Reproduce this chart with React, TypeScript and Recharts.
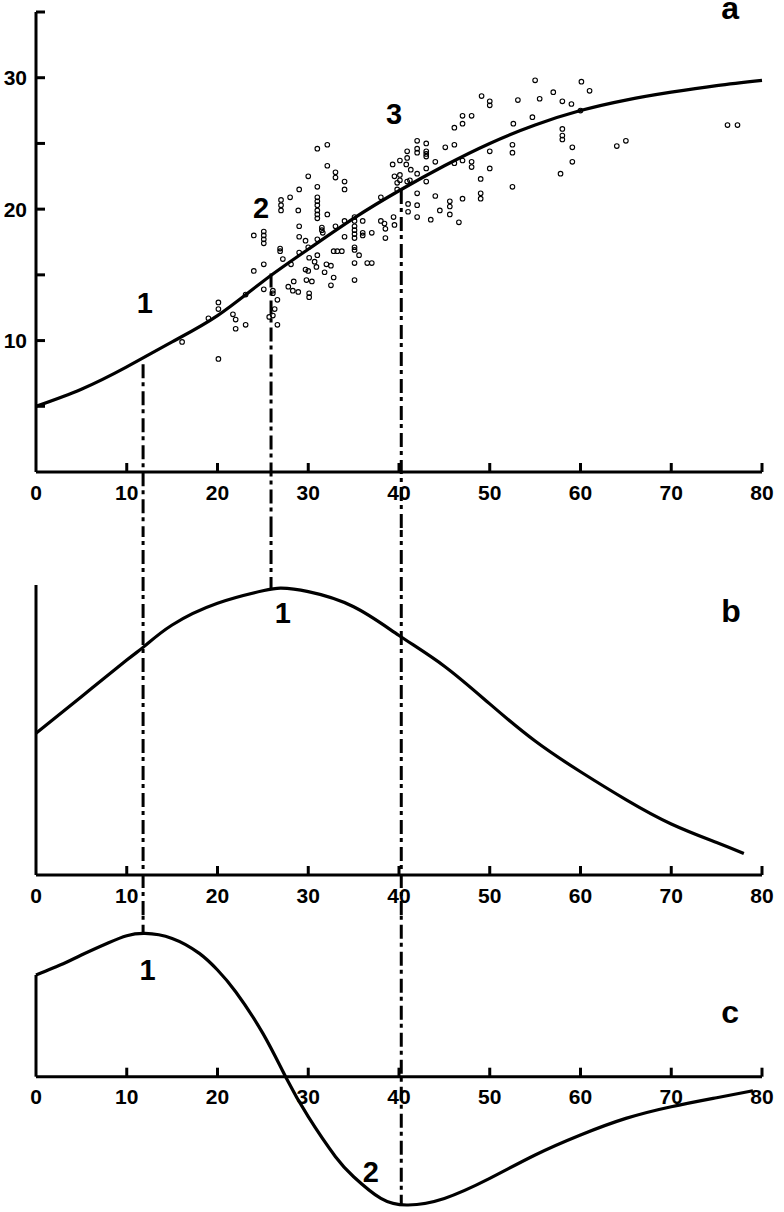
import React from 'react';
import { ComposedChart, Line, Scatter, XAxis, YAxis, ReferenceLine, ReferenceDot } from 'recharts';

// x ticks shared by the three panels
const xTicks = [0, 10, 20, 30, 40, 50, 60, 70, 80];
const yTicksA = [5, 10, 15, 20, 25, 30, 35];

// panel a: fitted curve
const ageA = [0, 5, 10, 15, 20, 25, 30, 35, 40, 45, 50, 55, 60, 65, 70, 75, 80];
const valueA = [5.0, 6.3, 8.0, 9.9, 11.9, 14.5, 16.95, 19.3, 21.4, 23.3, 25.0, 26.4, 27.5, 28.3, 28.9, 29.4, 29.8];

// panel a: observations
const observations: [number, number][] = [
  [16.1, 9.9], [19.0, 11.7], [20.1, 8.6], [20.1, 12.4], [20.1, 12.9],
  [21.7, 12.0], [22.0, 11.6], [22.0, 10.9], [23.1, 11.2], [23.1, 13.5],
  [24.0, 15.3], [24.0, 18.0], [25.1, 18.3], [25.1, 18.0], [25.1, 17.7], [25.1, 17.4],
  [25.1, 15.8], [25.1, 13.9], [26.1, 13.8], [26.1, 13.6], [26.6, 13.1], [26.3, 12.4],
  [25.7, 11.8], [26.1, 11.9], [26.6, 11.2],
  [27.0, 20.7], [27.0, 20.3], [27.0, 19.9], [26.9, 17.0], [26.9, 16.8], [27.2, 16.2],
  [28.0, 20.9], [28.9, 19.9], [29.0, 21.5], [29.0, 18.7], [29.0, 17.9], [29.7, 17.6], [30.0, 17.1],
  [29.0, 16.7], [28.1, 15.8], [27.8, 14.1], [28.3, 13.8], [28.9, 13.7], [28.4, 14.5],
  [29.8, 14.6], [30.4, 14.5], [30.1, 13.6], [30.1, 13.3], [29.7, 15.4], [30.0, 15.3],
  [30.1, 16.3], [30.7, 16.0], [30.9, 15.6], [31.0, 16.5],
  [30.0, 22.5], [31.0, 24.6], [31.0, 21.7],
  [31.0, 20.9], [31.0, 20.6], [31.0, 20.3], [31.0, 19.9], [31.0, 19.6], [31.0, 19.3], [31.0, 17.7],
  [32.1, 24.9], [32.1, 23.3], [33.0, 22.8], [33.0, 22.4], [34.0, 22.1], [34.0, 21.5],
  [32.1, 19.6], [34.0, 19.1], [33.0, 18.7], [31.5, 18.6], [31.5, 18.4], [31.6, 18.2],
  [35.1, 19.4], [35.1, 19.1], [35.1, 18.7], [35.1, 18.4], [35.1, 18.1], [35.1, 17.8],
  [36.0, 19.1], [36.0, 18.2], [36.0, 18.0], [34.0, 17.9], [37.0, 18.2],
  [38.0, 19.1], [38.4, 18.9], [38.5, 18.5], [38.0, 20.9], [38.5, 17.8], [39.4, 19.4], [39.5, 18.8],
  [41.0, 20.4], [41.0, 19.8], [42.0, 21.2], [42.0, 20.3], [42.0, 19.4], [43.5, 19.2],
  [44.0, 21.0], [44.5, 19.9], [45.6, 20.6], [45.6, 20.2], [45.6, 19.6], [46.6, 19.0],
  [32.8, 16.8], [33.2, 16.8], [33.7, 16.8], [35.1, 17.1], [35.1, 16.9], [35.6, 16.5],
  [35.1, 15.9], [36.5, 15.9], [37.0, 15.9], [35.1, 14.6],
  [32.0, 15.8], [32.5, 15.7], [31.8, 15.2], [32.8, 14.8], [32.5, 14.2],
  [39.3, 23.4], [40.1, 23.7], [40.9, 24.4], [40.9, 23.9],
  [42.0, 25.2], [42.0, 24.6], [42.0, 24.3], [43.0, 25.0], [43.0, 24.4], [43.0, 24.2], [43.0, 24.0],
  [44.0, 23.6], [45.1, 24.7], [46.1, 26.2], [46.1, 24.9],
  [40.8, 23.4], [41.3, 23.0], [42.0, 22.7], [43.0, 23.1], [43.0, 22.1],
  [39.5, 22.5], [40.1, 22.6], [40.1, 22.2], [39.8, 22.0], [40.9, 22.1], [41.2, 22.2], [39.8, 21.5],
  [55.0, 29.8], [60.1, 29.7], [61.0, 29.0], [49.1, 28.6], [50.0, 28.2], [50.0, 27.9],
  [53.1, 28.3], [55.5, 28.4], [57.0, 28.9], [58.0, 28.2], [59.0, 28.0], [60.0, 27.5],
  [47.0, 27.1], [47.0, 26.5], [48.0, 27.1], [52.6, 26.5], [54.7, 27.0],
  [58.0, 26.1], [58.0, 25.6], [58.0, 25.3], [52.5, 24.9], [52.5, 24.3], [50.0, 24.4],
  [59.1, 24.7], [64.0, 24.8], [65.0, 25.2], [46.1, 23.5], [47.0, 23.7], [48.0, 23.6], [48.0, 23.2],
  [50.0, 23.1], [59.1, 23.6], [57.8, 22.7], [49.0, 22.3], [52.5, 21.7], [49.0, 21.2], [49.0, 20.8],
  [47.0, 20.8], [76.2, 26.4], [77.3, 26.4],
];

// panel b: first derivative (arbitrary units)
const ageB = [0, 5, 10, 12, 15, 20, 25, 27, 30, 35, 40, 45, 50, 55, 60, 65, 70, 75, 78];
const valueB = [48.9, 61.5, 74.1, 79.0, 86.2, 93.7, 98.0, 98.9, 97.7, 92.5, 82.6, 72.0, 59.0, 46.2, 35.6, 26.0, 17.6, 11.2, 7.4];

// panel c: second derivative (arbitrary units)
const ageC = [0, 3, 5, 8, 10, 12, 15, 18, 20, 22, 25, 27.5, 30, 33, 35, 38, 41, 45, 50, 55, 60, 65, 70, 75, 79];
const valueC = [101.7, 113, 121.7, 134, 141, 143.3, 138.3, 123.3, 106.7, 85, 43.3, 0, -40, -80, -100, -121.7, -128.3, -121.7, -101.7, -78.3, -58.3, -41.7, -30, -21, -14];

// dash-dot guides: x position, value where they start on curve a, end values in b and c
const guideX = [11.8, 25.9, 40.25];
const guideStartA = [8.2, 15.1, 21.45];
const guideEndB = [null, 99, null];
const guideEndC = [143, null, -128];

// panel labels (anchor in data units, baseline of text)
const labelsA = [
  { x: 12.0, y: 12.1, text: '1', big: false },
  { x: 24.8, y: 19.3, text: '2', big: false },
  { x: 39.45, y: 26.5, text: '3', big: false },
  { x: 76.5, y: 34.5, text: 'a', big: true },
];
const labelsB = [
  { x: 27.2, y: 86.8, text: '1', big: false },
  { x: 76.6, y: 87.3, text: 'b', big: true },
];
const labelsC = [
  { x: 12.3, y: 96.7, text: '1', big: false },
  { x: 36.9, y: -105, text: '2', big: false },
  { x: 76.5, y: 53.4, text: 'c', big: true },
];

const FONT = "'Liberation Sans', Arial, Helvetica, sans-serif";
const DASH = '14 4 4 5';
const W = 784;

const toRows = (xs: number[], ys: number[]) => xs.map((x, i) => ({ x, y: ys[i] }));
const curveA = toRows(ageA, valueA);
const curveB = toRows(ageB, valueB);
const curveC = toRows(ageC, valueC);
const points = observations.map(([x, y]) => ({ x, y }));

const XTick = (props: any) => {
  const { x, y, payload, labelDy } = props;
  return (
    <g>
      {payload.value !== 0 && <line x1={x} y1={y} x2={x} y2={y - 9} stroke="#000" strokeWidth={3} />}
      <text x={x} y={y + labelDy} textAnchor="middle" fontFamily={FONT} fontWeight="bold" fontSize={21} fill="#000">
        {payload.value}
      </text>
    </g>
  );
};

const YTick = (props: any) => {
  const { x, y, payload } = props;
  return (
    <g>
      <line x1={x} y1={y} x2={x + 9} y2={y} stroke="#000" strokeWidth={3} />
      {payload.value % 10 === 0 && (
        <text x={x - 9} y={y + 7.5} textAnchor="end" fontFamily={FONT} fontWeight="bold" fontSize={21} fill="#000">
          {payload.value}
        </text>
      )}
    </g>
  );
};

const Dot = (p: any) => <circle cx={p.cx} cy={p.cy} r={2.3} fill="none" stroke="#000" strokeWidth={1.1} />;

const renderLabels = (list: { x: number; y: number; text: string; big: boolean }[]) =>
  list.map((l) => (
    <ReferenceDot
      key={l.text + l.x}
      x={l.x}
      y={l.y}
      r={0}
      ifOverflow="visible"
      shape={(p: any) => (
        <text x={p.cx} y={p.cy} textAnchor="middle" fontFamily={FONT} fontWeight="bold" fontSize={l.big ? 32 : 29} fill="#000">
          {l.text}
        </text>
      )}
    />
  ));

const guide = (key: string, x: number, from: number, to: number) => (
  <ReferenceLine
    key={key}
    segment={[{ x, y: from }, { x, y: to }]}
    stroke="#000"
    strokeWidth={3}
    strokeDasharray={DASH}
    ifOverflow="visible"
  />
);

const xAxisProps = (height: number, labelDy: number) => ({
  dataKey: 'x',
  type: 'number' as const,
  domain: [0, 80],
  ticks: xTicks,
  interval: 0 as const,
  height,
  tickSize: 0,
  tickMargin: 0,
  tickLine: false,
  axisLine: { stroke: '#000', strokeWidth: 3 },
  tick: <XTick labelDy={labelDy} />,
});

export default function App() {
  return (
    <div style={{ position: 'relative', width: W, height: 1212, background: '#fff' }}>
      <style>{'body{margin:0}.panel-c *{clip-path:none !important}'}</style>

      <div style={{ position: 'absolute', left: 0, top: 0 }}>
        <ComposedChart width={W} height={530} margin={{ top: 12, right: 22, bottom: 0, left: 0 }}>
          <XAxis {...xAxisProps(58, 28)} />
          <YAxis
            type="number"
            domain={[0, 35]}
            ticks={yTicksA}
            interval={0}
            width={36}
            tickSize={0}
            tickMargin={0}
            tickLine={false}
            axisLine={{ stroke: '#000', strokeWidth: 3 }}
            tick={<YTick />}
          />
          {guideX.map((gx, i) => guide('a' + i, gx, guideStartA[i], -20))}
          <Scatter data={points} dataKey="y" shape={<Dot />} isAnimationActive={false} />
          <Line data={curveA} dataKey="y" type="natural" stroke="#000" strokeWidth={3.2} dot={false} activeDot={false} isAnimationActive={false} />
          {renderLabels(labelsA)}
        </ComposedChart>
      </div>

      <div style={{ position: 'absolute', left: 0, top: 530 }}>
        <ComposedChart width={W} height={385} margin={{ top: 55, right: 22, bottom: 0, left: 0 }}>
          <XAxis {...xAxisProps(40, 28)} />
          <YAxis type="number" domain={[0, 100]} width={36} tick={false} tickLine={false} axisLine={{ stroke: '#000', strokeWidth: 3 }} />
          {guideX.map((gx, i) => guide('b' + i, gx, 140, guideEndB[i] ?? -20))}
          <Line data={curveB} dataKey="y" type="natural" stroke="#000" strokeWidth={3.2} dot={false} activeDot={false} isAnimationActive={false} />
          {renderLabels(labelsB)}
        </ComposedChart>
      </div>

      <div className="panel-c" style={{ position: 'absolute', left: 0, top: 915 }}>
        <ComposedChart width={W} height={297} margin={{ top: 11.7, right: 22, bottom: 0, left: 0 }}>
          <XAxis {...xAxisProps(135.3, 27)} />
          <YAxis type="number" domain={[0, 150]} allowDataOverflow width={36} tick={false} tickLine={false} axisLine={false} />
          <ReferenceLine segment={[{ x: 0, y: 0 }, { x: 0, y: valueC[0] }]} stroke="#000" strokeWidth={3} ifOverflow="visible" />
          {guideX.map((gx, i) => (guideEndC[i] === null ? null : guide('c' + i, gx, 260, guideEndC[i] as number)))}
          <Line data={curveC} dataKey="y" type="natural" stroke="#000" strokeWidth={3.2} dot={false} activeDot={false} isAnimationActive={false} />
          {renderLabels(labelsC)}
        </ComposedChart>
      </div>
    </div>
  );
}
